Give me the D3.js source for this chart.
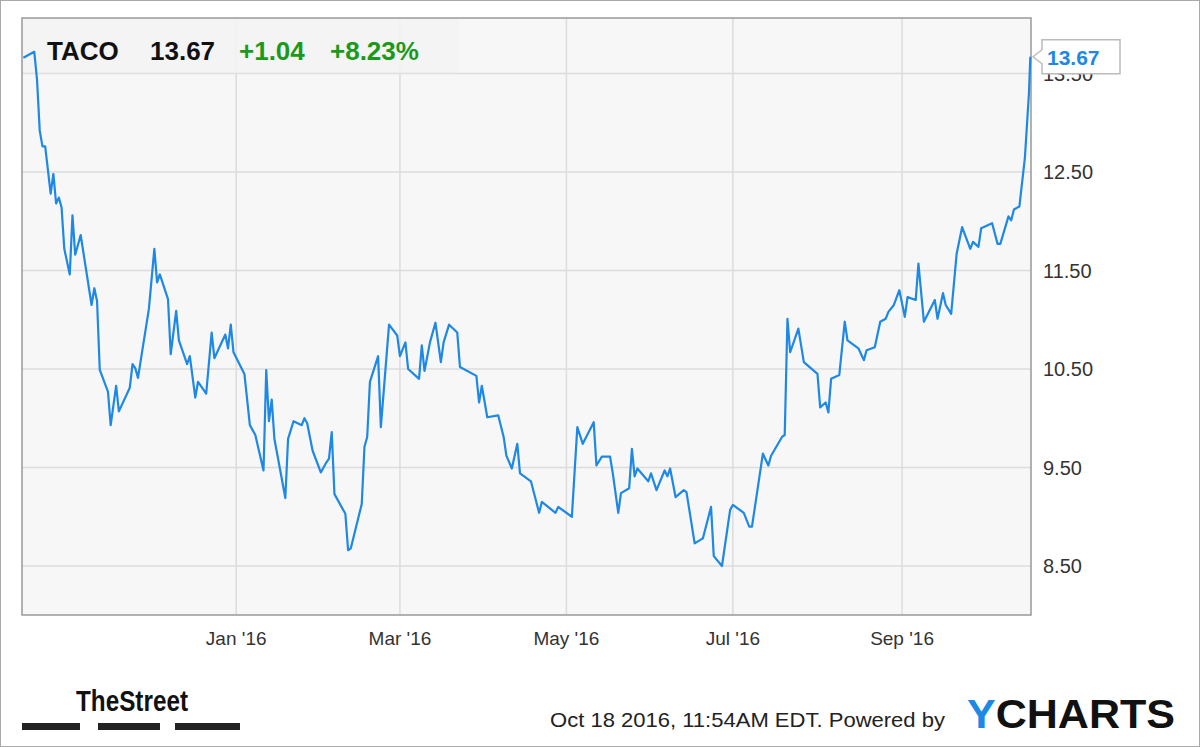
<!DOCTYPE html>
<html><head><meta charset="utf-8">
<script src="https://cdn.jsdelivr.net/npm/d3@7"></script>
<style>body{margin:0;background:#fff}svg{display:block}</style>
</head><body>
<svg id="c" width="1200" height="747"></svg>
<script>
// [days since 2016-01-01, price]
const closes = [[-78,13.66],[-74,13.72],[-73,13.44],[-72,12.92],[-71,12.76],[-70,12.76],[-68,12.28],[-67,12.48],[-66,12.18],[-65,12.24],[-64,12.14],[-63,11.72],[-61,11.46],[-60,12.06],[-59,11.66],[-57,11.86],[-53,11.15],[-52,11.32],[-51,11.19],[-50,10.49],[-47,10.27],[-46,9.93],[-44,10.33],[-43,10.07],[-39,10.31],[-38,10.55],[-37,10.51],[-36,10.41],[-32,11.11],[-30,11.72],[-29,11.38],[-28,11.46],[-25,11.21],[-24,10.65],[-22,11.09],[-21,10.79],[-18,10.55],[-17,10.63],[-15,10.21],[-14,10.37],[-11,10.25],[-9,10.87],[-8,10.61],[-4,10.85],[-3,10.71],[-2,10.95],[-1,10.67],[3,10.45],[5,9.93],[7,9.83],[10,9.47],[11,10.49],[12,9.97],[13,10.19],[14,9.79],[18,9.19],[19,9.79],[21,9.97],[24,9.93],[25,10.0],[26,9.95],[28,9.67],[31,9.45],[33,9.55],[34,9.59],[35,9.86],[36,9.23],[40,9.03],[41,8.66],[42,8.68],[46,9.13],[47,9.71],[48,9.81],[49,10.37],[52,10.63],[53,9.91],[56,10.95],[59,10.84],[60,10.63],[62,10.77],[63,10.5],[67,10.4],[68,10.74],[69,10.48],[71,10.77],[73,10.97],[75,10.57],[76,10.77],[78,10.95],[81,10.87],[82,10.52],[88,10.43],[89,10.16],[90,10.33],[92,10.01],[96,10.03],[98,9.81],[99,9.62],[101,9.49],[103,9.74],[104,9.44],[108,9.36],[111,9.04],[112,9.15],[117,9.04],[118,9.10],[123,9.0],[125,9.91],[127,9.74],[131,9.96],[132,9.52],[134,9.61],[137,9.61],[138,9.44],[140,9.04],[141,9.24],[144,9.29],[145,9.69],[146,9.41],[147,9.49],[151,9.36],[152,9.44],[154,9.27],[157,9.47],[158,9.41],[159,9.49],[161,9.20],[164,9.27],[165,9.25],[168,8.73],[171,8.78],[174,9.1],[175,8.60],[178,8.50],[181,9.07],[182,9.12],[186,9.04],[188,8.90],[189,8.90],[193,9.64],[195,9.52],[196,9.62],[200,9.81],[201,9.83],[202,11.01],[203,10.67],[206,10.91],[208,10.57],[213,10.45],[214,10.11],[216,10.16],[217,10.06],[218,10.40],[221,10.44],[223,10.98],[224,10.79],[228,10.71],[230,10.59],[231,10.69],[234,10.72],[236,10.98],[238,11.01],[239,11.08],[241,11.15],[243,11.30],[245,11.03],[246,11.23],[249,11.20],[250,11.57],[252,10.98],[256,11.20],[257,11.01],[259,11.27],[260,11.15],[262,11.06],[264,11.67],[266,11.94],[269,11.72],[270,11.79],[272,11.74],[273,11.93],[277,11.98],[279,11.77],[280,11.77],[283,12.05],[284,12.01],[285,12.12],[287,12.15],[289,12.64],[290.5,13.3],[291,13.67]];
const yTicks = [8.5,9.5,10.5,11.5,12.5,13.5];
const xTickLabels = ["Jan '16","Mar '16","May '16","Jul '16","Sep '16"];
const xTickDates = ["2016-01-01","2016-03-01","2016-05-01","2016-07-01","2016-09-01"];
const header = {ticker:"TACO", last:"13.67", chg:"+1.04", pct:"+8.23%"};

const base = Date.UTC(2016,0,1);
const data = closes.map(c=>({date:new Date(base+c[0]*864e5), v:c[1]}));
const svg = d3.select("#c");
const L=22,R=1031,T=18,B=615;
const x = d3.scaleUtc().domain([new Date(Date.UTC(2015,9,14,12)), new Date(Date.UTC(2016,9,18,6))]).range([L,R]);
const y = d3.scaleLinear().domain([8.5,12.5]).range([566,172]);
const hf="Liberation Sans, Arial";

svg.append("rect").attr("x",0.5).attr("y",0.5).attr("width",1199).attr("height",746).attr("fill","#fff").attr("stroke","#aaa");
svg.append("rect").attr("x",L).attr("y",T).attr("width",R-L).attr("height",B-T).attr("fill","#f7f7f7");
const g = svg.append("g");
yTicks.forEach(t=>{g.append("line").attr("x1",L).attr("x2",R).attr("y1",y(t)).attr("y2",y(t)).attr("stroke","#dcdcdc").attr("stroke-width",1.5);});
xTickDates.forEach((d,i)=>{const xx=x(d3.utcParse("%Y-%m-%d")(d));
  g.append("line").attr("x1",xx).attr("x2",xx).attr("y1",T).attr("y2",B).attr("stroke","#dcdcdc").attr("stroke-width",1.5);
  svg.append("text").attr("x",xx).attr("y",645).attr("text-anchor","middle").attr("font-family",hf).attr("font-size",19).attr("fill","#333").text(xTickLabels[i]);});
yTicks.forEach(t=>{svg.append("text").attr("x",1043).attr("y",y(t)+7).attr("font-family",hf).attr("font-size",20).attr("fill","#333").text(t.toFixed(2));});
svg.append("rect").attr("x",L+1).attr("y",T+1).attr("width",436).attr("height",54).attr("fill","#f3f3f3").attr("opacity",0.9);
svg.append("line").attr("x1",L).attr("x2",458).attr("y1",T+55).attr("y2",T+55).attr("stroke","#e6e6e6");
svg.append("rect").attr("x",L).attr("y",T).attr("width",R-L).attr("height",B-T).attr("fill","none").attr("stroke","#999").attr("stroke-width",1.5);
svg.append("path").datum(data).attr("d",d3.line().x(d=>x(d.date)).y(d=>y(d.v))).attr("fill","none").attr("stroke","#1e88e5").attr("stroke-width",2.2).attr("stroke-linejoin","round");
svg.append("text").attr("x",47).attr("y",60).attr("font-family",hf).attr("font-weight","bold").attr("font-size",26).attr("fill","#111").text(header.ticker);
svg.append("text").attr("x",150).attr("y",60).attr("font-family",hf).attr("font-weight","bold").attr("font-size",26).attr("fill","#111").text(header.last);
svg.append("text").attr("x",239).attr("y",60).attr("font-family",hf).attr("font-weight","bold").attr("font-size",26).attr("fill","#1a9a1a").text(header.chg);
svg.append("text").attr("x",330).attr("y",60).attr("font-family",hf).attr("font-weight","bold").attr("font-size",26).attr("fill","#1a9a1a").text(header.pct);
const last = closes[closes.length-1][1];
const ly=y(last);
svg.append("path").attr("d",`M${R+2},${ly} L1042,${ly-7} L1042,${ly-17} L1120,${ly-17} L1120,${ly+17} L1042,${ly+17} L1042,${ly+7} Z`).attr("fill","#fff").attr("stroke","#bbb").attr("stroke-width",1.5);
svg.append("text").attr("x",1047).attr("y",ly+8).attr("font-family",hf).attr("font-size",21).attr("font-weight","bold").attr("fill","#1e88e5").text(last.toFixed(2));
svg.append("text").attr("x",76).attr("y",711).attr("font-family",hf).attr("font-weight","bold").attr("font-size",29).attr("textLength",112).attr("lengthAdjust","spacingAndGlyphs").attr("fill","#111").text("TheStreet");
[[22,80],[98,160],[175,240]].forEach(b=>svg.append("rect").attr("x",b[0]).attr("y",723).attr("width",b[1]-b[0]).attr("height",7).attr("fill","#222"));
svg.append("text").attr("x",550).attr("y",727).attr("font-family",hf).attr("font-size",21).attr("textLength",395).attr("lengthAdjust","spacingAndGlyphs").attr("fill","#222").text("Oct 18 2016, 11:54AM EDT.  Powered by");
const yc=svg.append("text").attr("x",967).attr("y",728).attr("font-family",hf).attr("font-weight","bold").attr("font-size",41).attr("textLength",208).attr("lengthAdjust","spacingAndGlyphs").attr("fill","#111");
yc.append("tspan").attr("fill","#1e88e5").text("Y");yc.append("tspan").text("CHARTS");
</script></body></html>
